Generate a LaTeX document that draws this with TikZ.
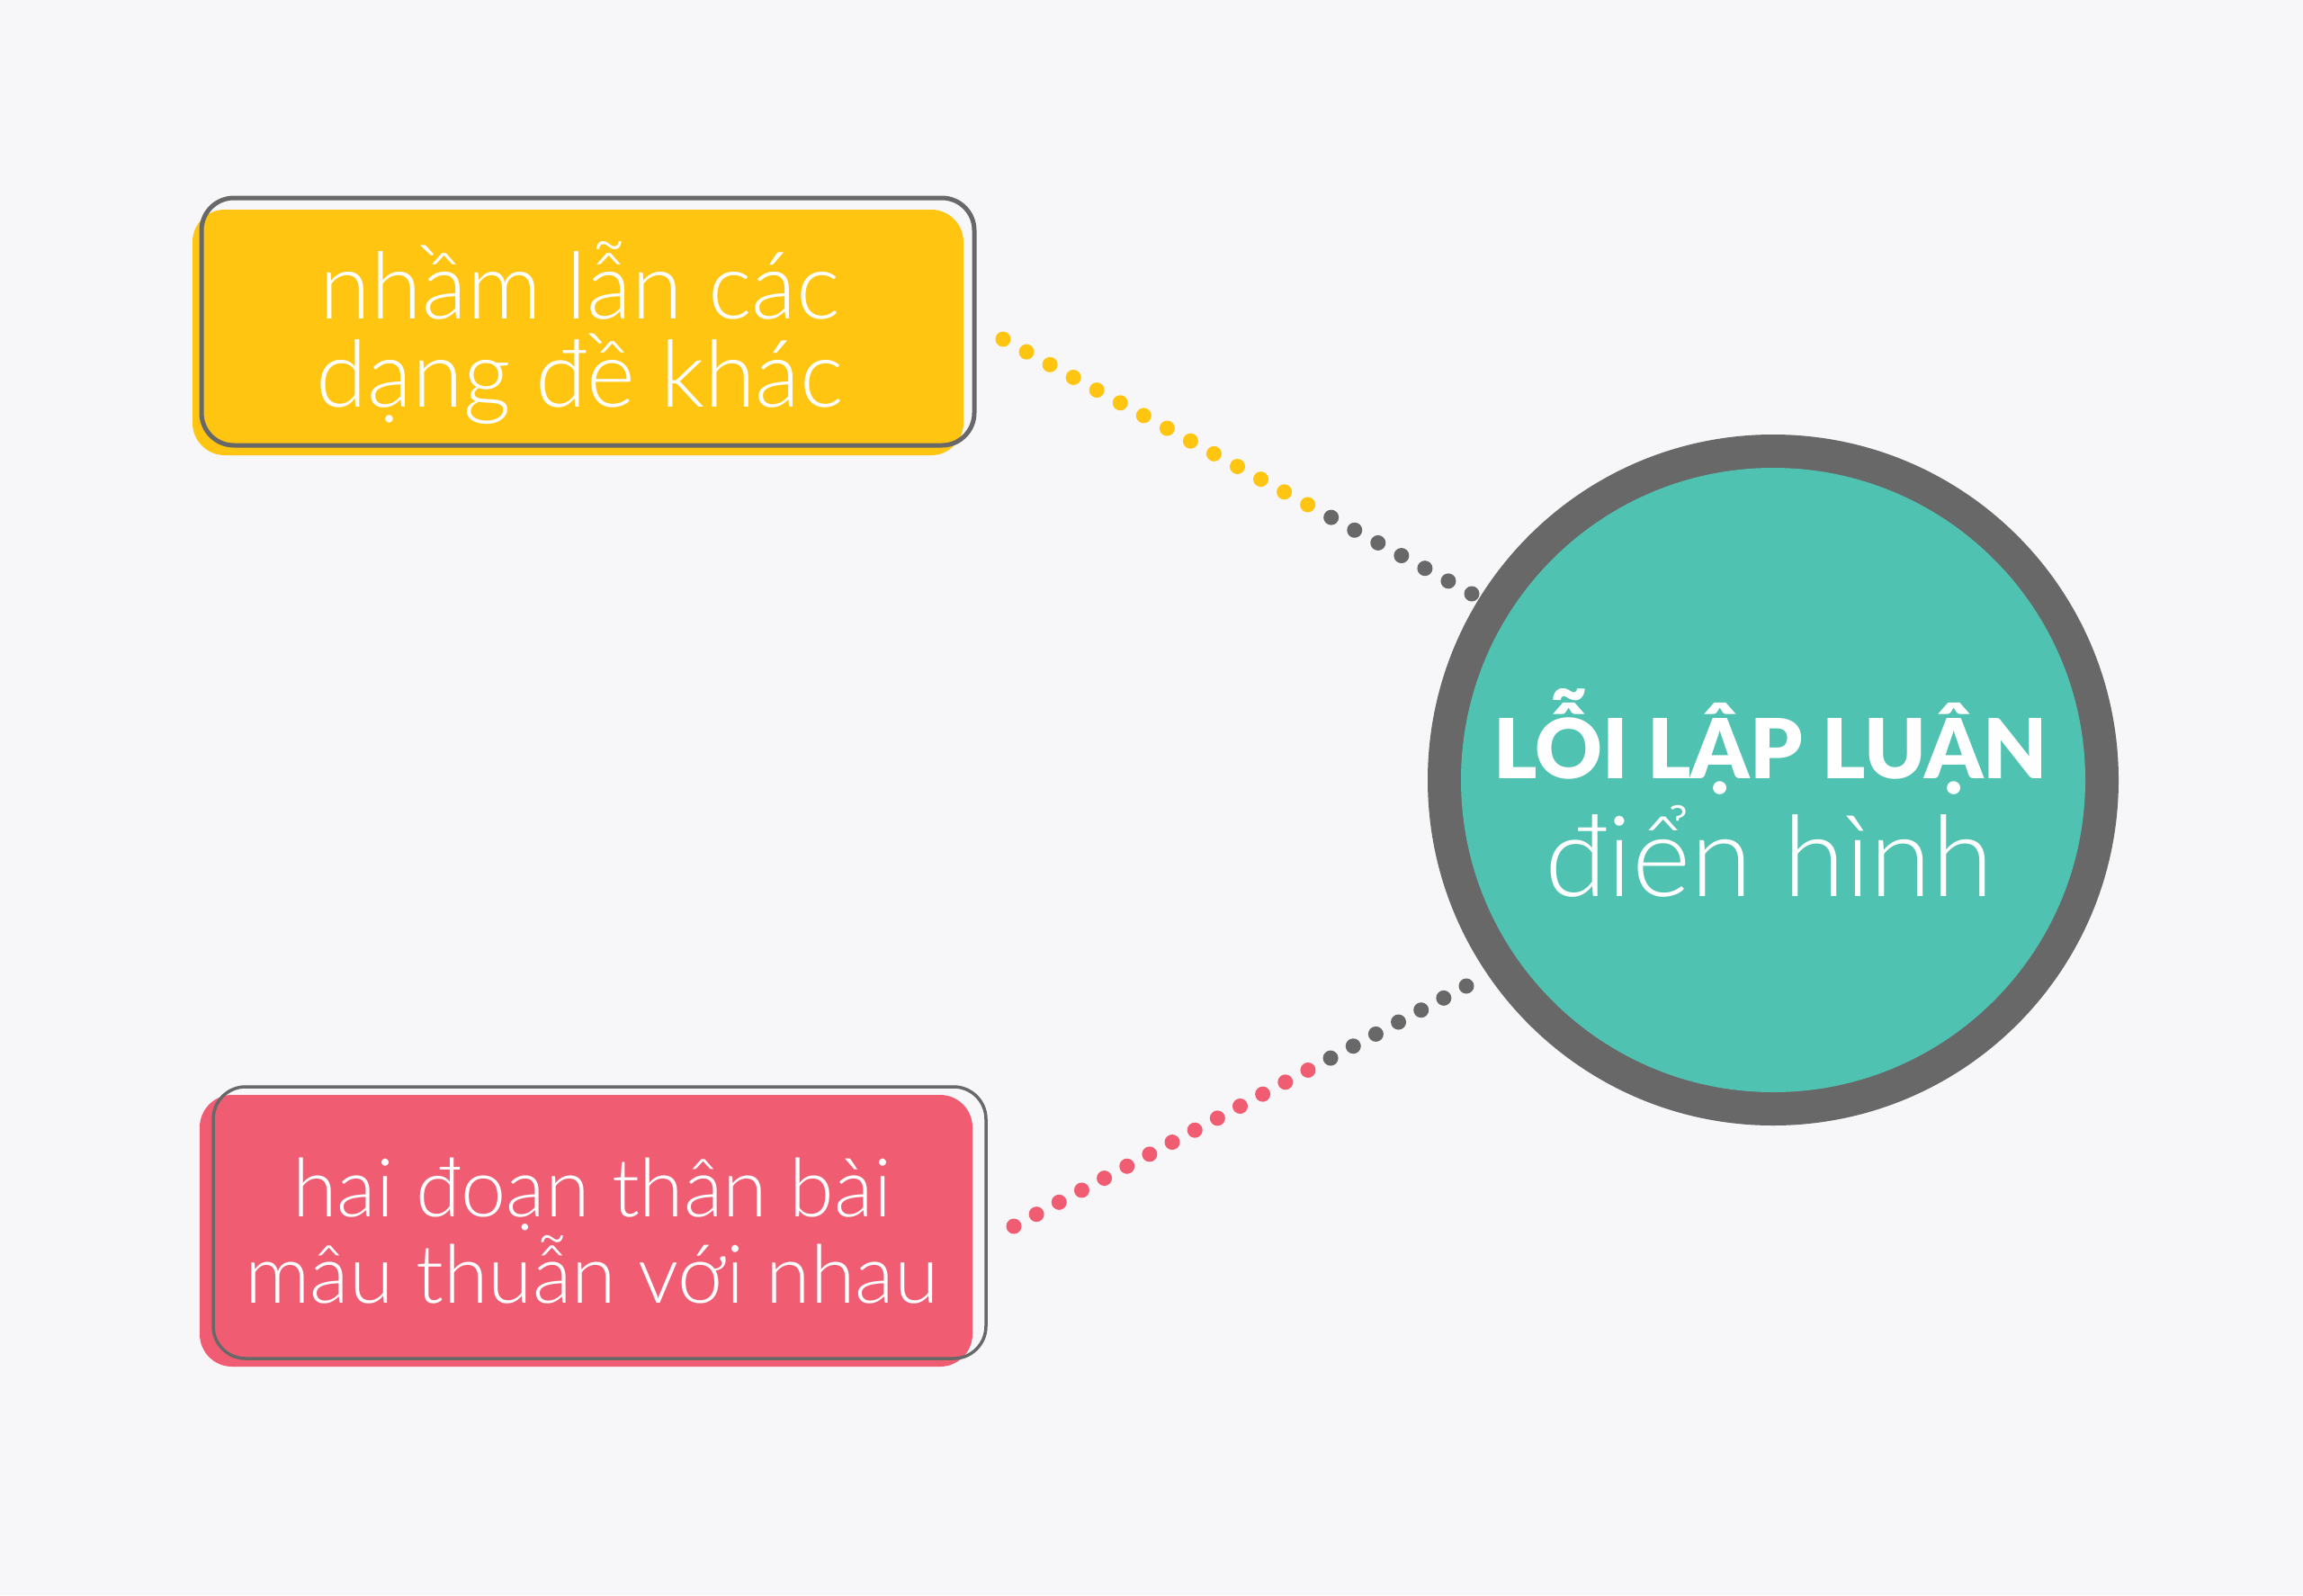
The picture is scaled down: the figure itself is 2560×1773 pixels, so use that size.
\documentclass[tikz,border=0pt]{standalone}
\usepackage{fontspec}
\setmainfont{Lato Light}
\newfontfamily\heavyfont{Lato Black}
\usetikzlibrary{calc}
\definecolor{bg}{HTML}{F7F7F9}
\definecolor{yel}{HTML}{FFC510}
\definecolor{rosy}{HTML}{F05D72}
\definecolor{teal}{HTML}{50C2B2}
\definecolor{grey}{HTML}{686868}
\begin{document}
\begin{tikzpicture}[x=1pt,y=-1pt,
  boxfill/.style={fill=#1, draw=none, rounded corners=36pt, inner sep=0pt},
  boxline/.style={draw=grey, fill=none, rounded corners=36pt, inner sep=0pt},
  boxtext/.style={text=white, anchor=base, inner sep=0pt},
  dotc/.style={fill=#1}]
\fill[bg] (0,0) rectangle (2560,1773);
\useasboundingbox (0,0) rectangle (2560,1773);

% yellow box
\node[boxfill=yel, minimum width=857pt, minimum height=273pt] (yfill) at (642.5,369.5) {};
\node[boxline, line width=5pt, minimum width=859pt, minimum height=275pt] (yline) at (653.5,357.5) {};
\node[boxtext, font=\fontsize{103}{98}\selectfont] (y1) at (645,354) {nhầm lẫn các};
\node[boxtext, font=\fontsize{103}{98}\selectfont] (y2) at (645,452) {dạng đề khác};

% red box
\node[boxfill=rosy, minimum width=859pt, minimum height=302pt] (rfill) at (651.5,1368) {};
\node[boxline, line width=3.5pt, minimum width=859pt, minimum height=302pt] (rline) at (666.5,1359) {};
\node[boxtext, font=\fontsize{90}{96}\selectfont] (r1) at (658,1352) {hai đoạn thân bài};
\node[boxtext, font=\fontsize{90}{96}\selectfont] (r2) at (658,1448) {mâu thuẫn với nhau};

% circle
\node[circle, fill=grey, minimum size=768pt, inner sep=0pt] (ring) at (1971,867) {};
\node[circle, fill=teal, minimum size=694pt, inner sep=0pt] (hub) at (ring.center) {};
\node[boxtext, font=\heavyfont\fontsize{92}{92}\selectfont] (h1) at (1968,865) {LỖI LẬP LUẬN};
\node[boxtext, font=\fontsize{125}{125}\selectfont] (h2) at (1967,996) {điển hình};

% dotted connectors
\coordinate (ta) at (1115,377);
\coordinate (tb) at (1636,660);
\coordinate (ba) at (1127,1363);
\coordinate (bb) at (1630,1096);
\foreach \i in {0,...,13} \fill[dotc=yel] ($(ta)!\i/20!(tb)$) circle (8.5pt);
\foreach \i in {14,...,20} \fill[dotc=grey] ($(ta)!\i/20!(tb)$) circle (8.5pt);
\foreach \i in {0,...,13} \fill[dotc=rosy] ($(ba)!\i/20!(bb)$) circle (8.5pt);
\foreach \i in {14,...,20} \fill[dotc=grey] ($(ba)!\i/20!(bb)$) circle (8.5pt);
\end{tikzpicture}
\end{document}
